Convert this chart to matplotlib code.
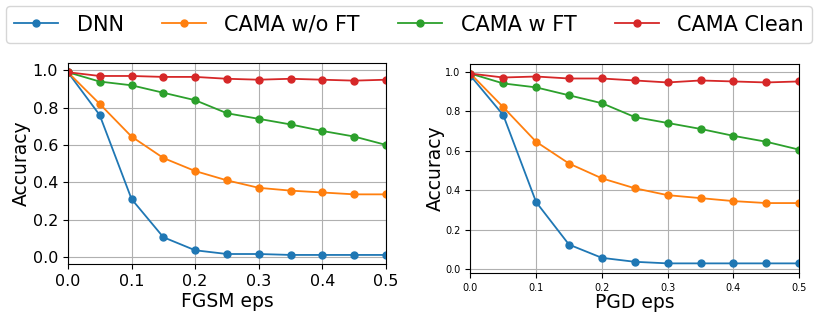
import matplotlib
matplotlib.use("Agg")
import matplotlib.pyplot as plt

eps = [0.0, 0.05, 0.1, 0.15, 0.2, 0.25, 0.3, 0.35, 0.4, 0.45, 0.5]
labels = ["DNN", "CAMA w/o FT", "CAMA w FT", "CAMA Clean"]
colors = ["tab:blue", "tab:orange", "tab:green", "tab:red"]

fgsm_dnn = [0.99, 0.76, 0.31, 0.105, 0.035, 0.015, 0.015, 0.01, 0.01, 0.01, 0.01]
fgsm_noft = [0.99, 0.82, 0.645, 0.53, 0.46, 0.41, 0.37, 0.355, 0.345, 0.335, 0.335]
fgsm_ft = [0.99, 0.94, 0.92, 0.88, 0.84, 0.77, 0.74, 0.71, 0.675, 0.645, 0.60]
fgsm_clean = [0.99, 0.97, 0.97, 0.965, 0.965, 0.955, 0.95, 0.955, 0.95, 0.945, 0.95]

pgd_dnn = [0.98, 0.78, 0.34, 0.125, 0.058, 0.038, 0.03, 0.03, 0.03, 0.03, 0.03]
pgd_noft = [0.99, 0.82, 0.645, 0.535, 0.46, 0.41, 0.375, 0.36, 0.345, 0.335, 0.335]
pgd_ft = [0.99, 0.94, 0.92, 0.88, 0.84, 0.77, 0.74, 0.71, 0.675, 0.645, 0.605]
pgd_clean = [0.99, 0.97, 0.975, 0.965, 0.965, 0.955, 0.945, 0.955, 0.95, 0.945, 0.95]

fig = plt.figure(figsize=(8.18, 3.14), dpi=100)
ax1 = fig.add_axes([0.083, 0.159, 0.389, 0.640])
ax2 = fig.add_axes([0.575, 0.131, 0.402, 0.665])

panels = [
    (ax1, [fgsm_dnn, fgsm_noft, fgsm_ft, fgsm_clean], "FGSM eps", 11.5, 2, 1),
    (ax2, [pgd_dnn, pgd_noft, pgd_ft, pgd_clean], "PGD eps", 7, 0, 0),
]

handles = []
for ax, series, xlabel, tick_fs, xpad, ypad in panels:
    handles = []
    for ys, c, lab in zip(series, colors, labels):
        h, = ax.plot(eps, ys, color=c, marker="o", markersize=5,
                     linewidth=1.3, label=lab)
        handles.append(h)
    ax.set_xlim(0, 0.5)
    ax.grid(True)
    ax.set_xlabel(xlabel, fontsize=13.5, labelpad=xpad)
    ax.set_ylabel("Accuracy", fontsize=13.5, labelpad=ypad)
    ax.tick_params(labelsize=tick_fs)

fig.legend(handles, labels, loc="upper center", ncol=4, fontsize=15,
           bbox_to_anchor=(0.5, 1.0), borderaxespad=0.3,
           columnspacing=1.84, handlelength=2.1, handletextpad=0.9)

fig.savefig("out.png", dpi=100)
